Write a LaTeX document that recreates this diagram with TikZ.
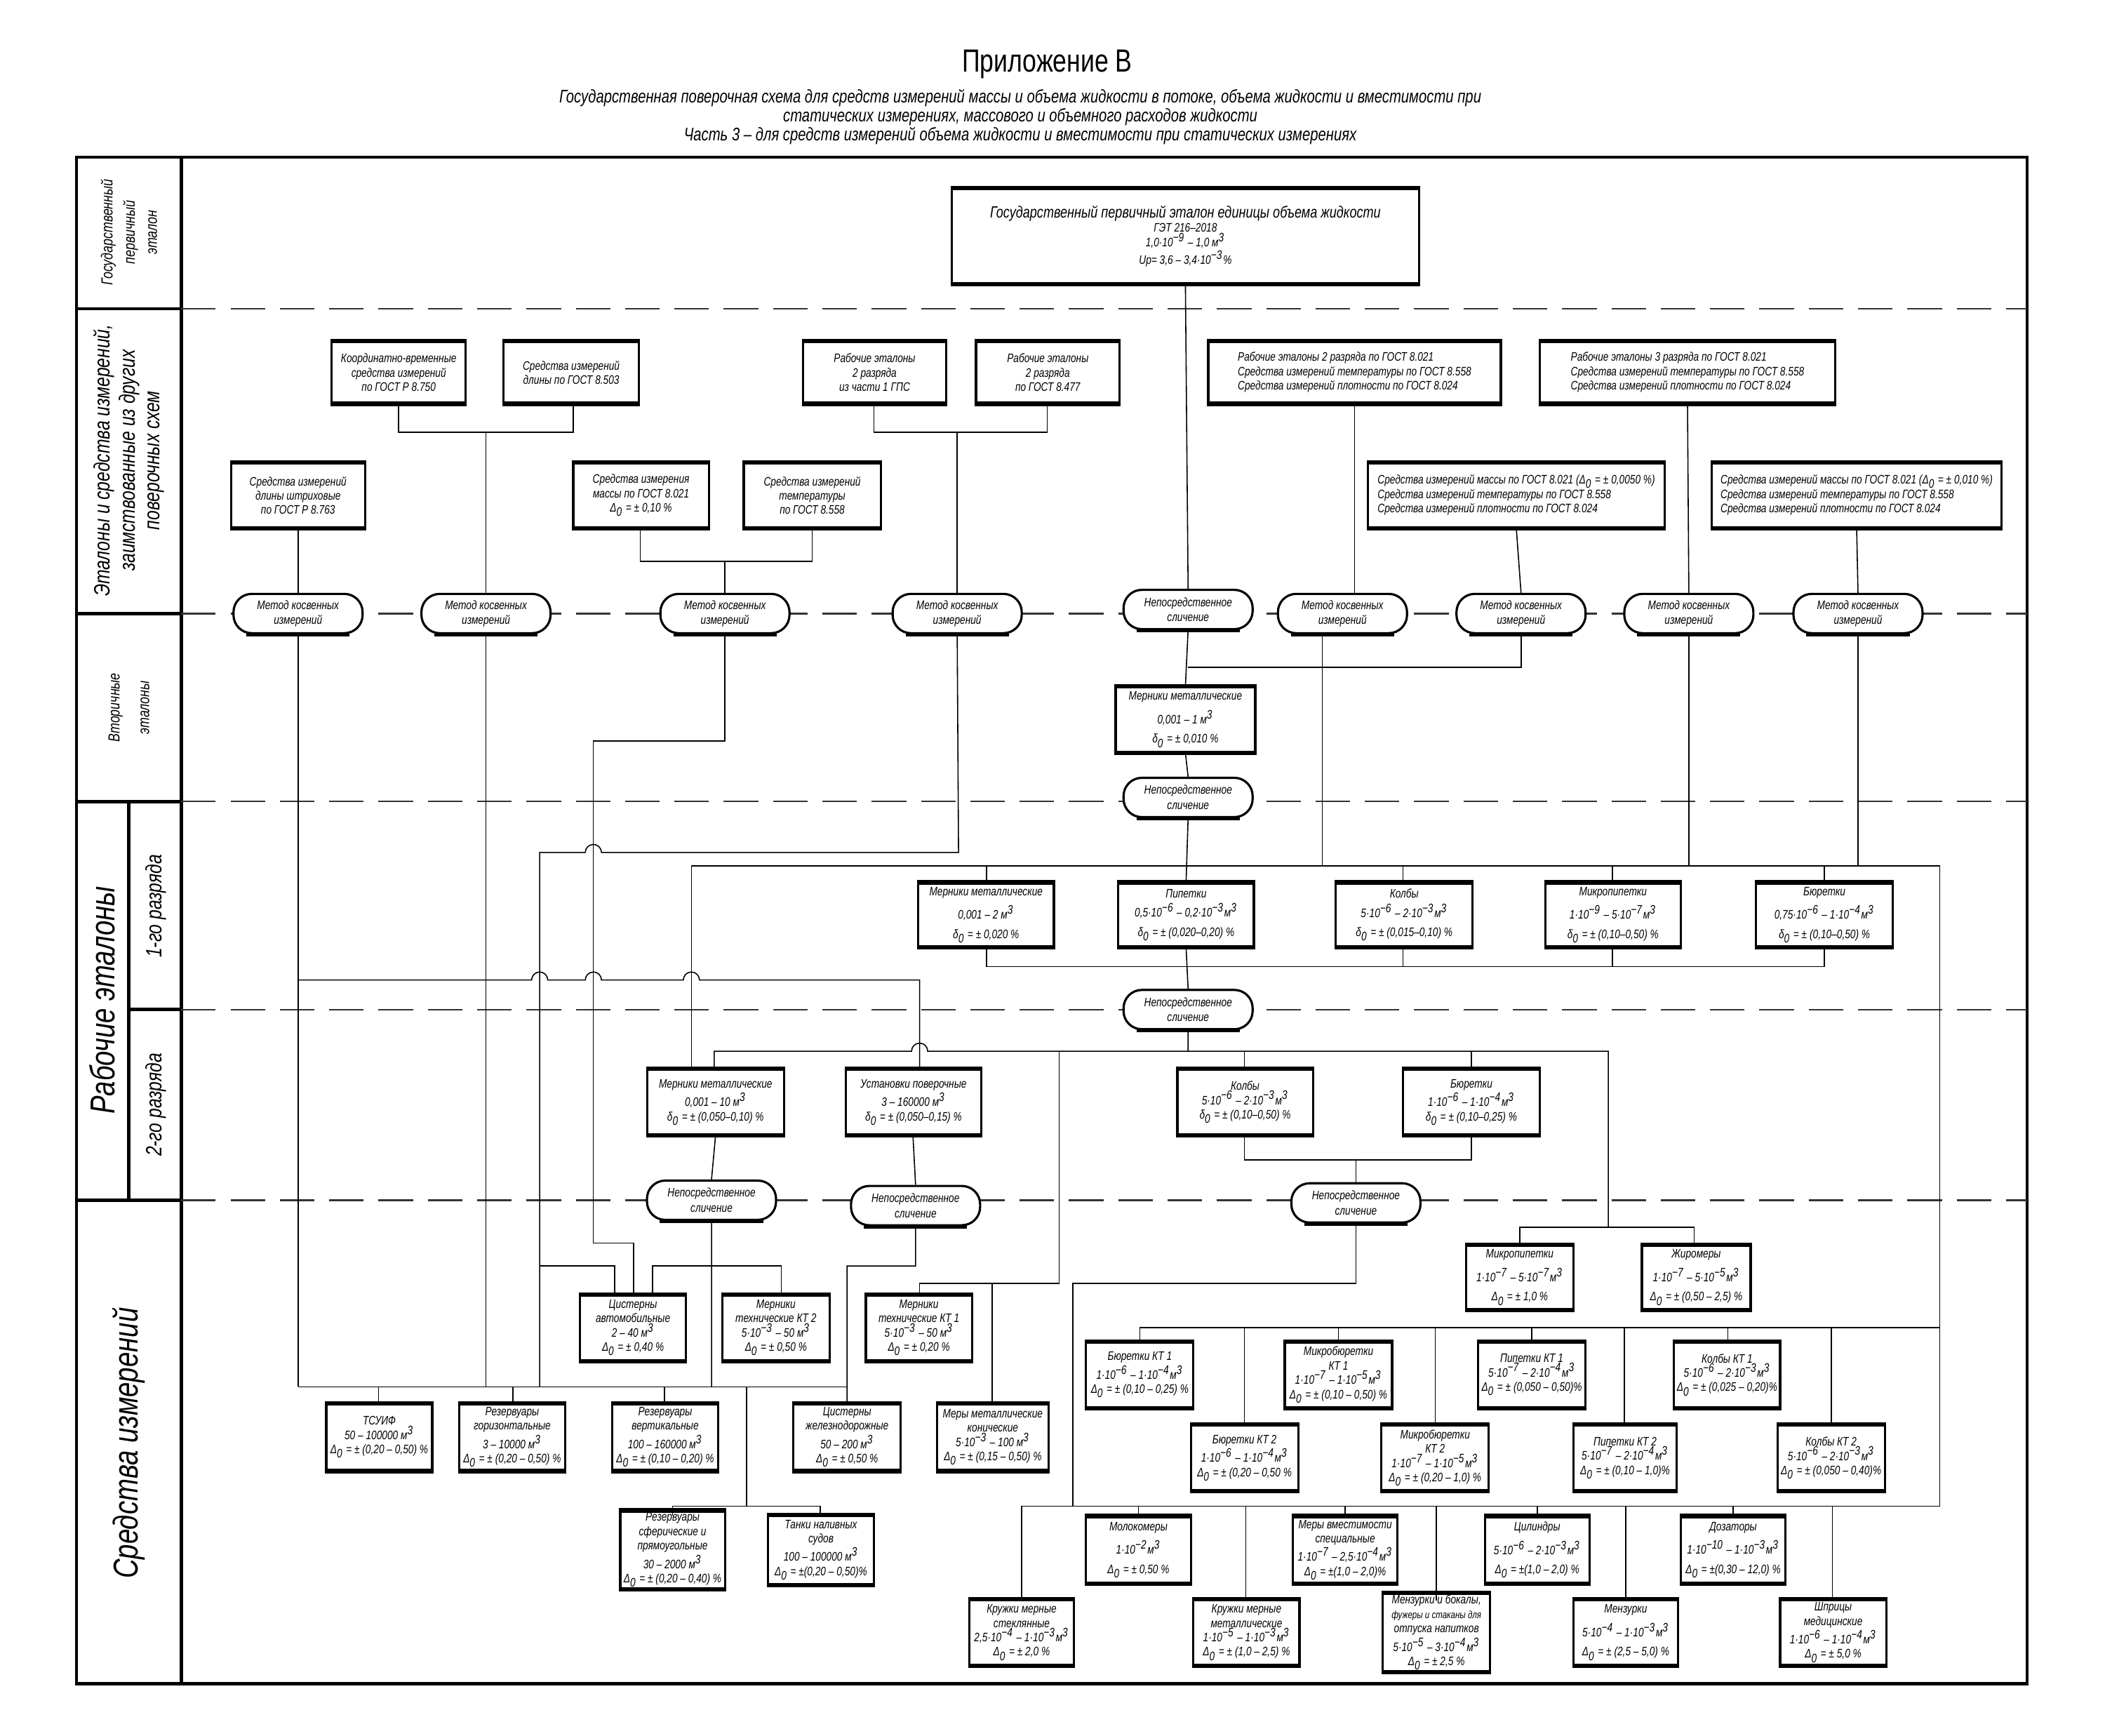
\documentclass[tikz,border=0pt]{standalone}
\usepackage{fontspec}
\setmainfont{Liberation Sans}[FakeStretch=0.78]
\begin{document}
\newcommand\tp[1]{10\textsuperscript{#1}}
\newcommand\kub{м\textsuperscript{3}}
\newcommand\dz{δ\textsubscript{0}}
\newcommand\Dz{Δ\textsubscript{0}}
\newcommand\bx[6]{%
 \pgfmathsetmacro\bw{(#4-#2)*0.01914}\pgfmathsetmacro\bh{(#5-#3)*0.01914}%
 \node[box,minimum width=\bw cm,minimum height=\bh cm] (#1) at ({(#2+#4)/2},{(#3+#5)/2}) {#6};
 \draw[line width=1.7pt] (#1.north west)--(#1.north east) (#1.south west)--(#1.south east);}
\newcommand\mt[4]{%
 \node[meth] (#1) at (#2,#3) {#4};
 \draw[line width=1.6pt] ([xshift=2mm]#1.south west)--([xshift=-2mm]#1.south east);}
\begin{tikzpicture}[x=0.01914cm,y=-0.01914cm,
 box/.style={draw,fill=white,line width=0.9pt,inner sep=0.5pt,align=center,font=\itshape\fontsize{5}{5.8}\selectfont},
 meth/.style={draw,fill=white,line width=0.9pt,rounded corners=2.6mm,minimum width=1.84cm,minimum height=0.56cm,inner sep=0.5pt,align=center,font=\itshape\fontsize{5}{6.2}\selectfont},
 w/.style={line width=0.45pt},
 dsh/.style={line width=0.7pt,dash pattern=on 14pt off 6pt,black!80},
 thk/.style={line width=1.3pt}]
\useasboundingbox (0,0) rectangle (1568,1293);
\fill[white] (0,0) rectangle (1568,1293);
% titles
\node (t0) at (780,48) {\fontsize{13}{14}\selectfont Приложение В};
\node[align=center,font=\itshape\fontsize{7.4}{7.6}\selectfont] (t1) at (760,87) {Государственная поверочная схема для средств измерений массы и объема жидкости в потоке, объема жидкости и вместимости при\\ статических измерениях, массового и объемного расходов жидкости\\ Часть 3 – для средств измерений объема жидкости и вместимости при статических измерениях};
% frame
\draw[thk] (57,117) rectangle (1510,1254);
\draw[thk] (135,117) -- (135,1254);
\foreach \y in {230,457,597,894} \draw[thk] (57,\y) -- (135,\y);
\draw[thk] (96,597) -- (96,894) (96,752) -- (135,752);
\foreach \y in {230,457,597,752,894} \draw[dsh] (135,\y) -- (1510,\y);
\node[rotate=90,align=center,font=\itshape\fontsize{6.5}{9}\selectfont] (c1) at (96,173) {Государственный\\ первичный\\ эталон};
\node[rotate=90,align=center,font=\itshape\fontsize{9}{10}\selectfont] (c2) at (96,343) {Эталоны и средства измерений,\\ заимствованные из других\\ поверочных схем};
\node[rotate=90,align=center,font=\itshape\fontsize{6.5}{12}\selectfont] (c3) at (96,527) {Вторичные\\ эталоны};
\node[rotate=90,font=\itshape\fontsize{14}{15}\selectfont] (c4) at (76,745) {Рабочие эталоны};
\node[rotate=90,font=\itshape\fontsize{9}{10}\selectfont] (c5) at (116,675) {1-го разряда};
\node[rotate=90,font=\itshape\fontsize{9}{10}\selectfont] (c6) at (116,823) {2-го разряда};
\node[rotate=90,font=\itshape\fontsize{14}{15}\selectfont] (c7) at (96,1075) {Средства измерений};
% boxes
\bx{gpe}{709}{141}{1057}{211}{\fontsize{6.6}{7.4}\selectfont Государственный первичный эталон единицы объема жидкости\\ ГЭТ 216–2018\\ 1,0·\tp{−9} – 1,0 \kub\\ Up= 3,6 – 3,4·\tp{−3}\%}
\bx{k1}{247}{255}{347}{300}{Координатно-временные\\ средства измерений\\ по ГОСТ Р 8.750}
\bx{k2}{375}{255}{476}{300}{Средства измерений\\ длины по ГОСТ 8.503}
\bx{k3}{598}{255}{705}{300}{Рабочие эталоны\\ 2 разряда\\ из части 1 ГПС}
\bx{k4}{727}{255}{834}{300}{Рабочие эталоны\\ 2 разряда\\ по ГОСТ 8.477}
\bx{k5}{900}{255}{1118}{300}{\begin{tabular}{@{}l@{}}Рабочие эталоны 2 разряда по ГОСТ 8.021\\ Средства измерений температуры по ГОСТ 8.558\\ Средства измерений плотности по ГОСТ 8.024\end{tabular}}
\bx{k6}{1147}{255}{1367}{300}{\begin{tabular}{@{}l@{}}Рабочие эталоны 3 разряда по ГОСТ 8.021\\ Средства измерений температуры по ГОСТ 8.558\\ Средства измерений плотности по ГОСТ 8.024\end{tabular}}
\bx{l1}{172}{345}{272}{393}{Средства измерений\\ длины штриховые\\ по ГОСТ Р 8.763}
\bx{l2}{427}{345}{528}{393}{Средства измерения\\ массы по ГОСТ 8.021\\ \Dz{} = ± 0,10 \%}
\bx{l3}{554}{345}{656}{393}{Средства измерений\\ температуры\\ по ГОСТ 8.558}
\bx{l4}{1019}{345}{1240}{393}{\begin{tabular}{@{}l@{}}Средства измерений массы по ГОСТ 8.021 (\Dz{} = ± 0,0050 \%)\\ Средства измерений температуры по ГОСТ 8.558\\ Средства измерений плотности по ГОСТ 8.024\end{tabular}}
\bx{l5}{1275}{345}{1491}{393}{\begin{tabular}{@{}l@{}}Средства измерений массы по ГОСТ 8.021 (\Dz{} = ± 0,010 \%)\\ Средства измерений температуры по ГОСТ 8.558\\ Средства измерений плотности по ГОСТ 8.024\end{tabular}}
% methods
\mt{m1}{222}{457}{Метод косвенных\\ измерений}
\mt{m2}{362}{457}{Метод косвенных\\ измерений}
\mt{m3}{540}{457}{Метод косвенных\\ измерений}
\mt{m4}{713}{457}{Метод косвенных\\ измерений}
\mt{m5}{885}{454}{Непосредственное\\ сличение}
\mt{m6}{1000}{457}{Метод косвенных\\ измерений}
\mt{m7}{1133}{457}{Метод косвенных\\ измерений}
\mt{m8}{1258}{457}{Метод косвенных\\ измерений}
\mt{m9}{1384}{457}{Метод косвенных\\ измерений}
\bx{sec}{831}{512}{935}{560}{Мерники металлические\\[2pt] 0,001 – 1 \kub\\[2pt] \dz{} = ± 0,010 \%}
\mt{n3}{885}{594}{Непосредственное\\ сличение}
\bx{r1}{684}{658}{785}{705}{Мерники металлические\\[2pt] 0,001 – 2 \kub\\[2pt] \dz{} = ± 0,020 \%}
\bx{r2}{833}{658}{934}{705}{Пипетки\\[2pt] 0,5·\tp{−6} – 0,2·\tp{−3}\kub\\[2pt] \dz{} = ± (0,020–0,20) \%}
\bx{r3}{995}{658}{1097}{705}{Колбы\\[2pt] 5·\tp{−6} – 2·\tp{−3}\kub\\[2pt] \dz{} = ± (0,015–0,10) \%}
\bx{r4}{1151}{658}{1252}{705}{Микропипетки\\[2pt] 1·\tp{−9} – 5·\tp{−7}\kub\\[2pt] \dz{} = ± (0,10–0,50) \%}
\bx{r5}{1308}{658}{1410}{705}{Бюретки\\[2pt] 0,75·\tp{−6} – 1·\tp{−4}\kub\\[2pt] \dz{} = ± (0,10–0,50) \%}
\mt{n2}{885}{752}{Непосредственное\\ сличение}
\bx{s1}{482}{797}{584}{845}{Мерники металлические\\ 0,001 – 10 \kub\\ \dz{} = ± (0,050–0,10) \%}
\bx{s2}{630}{797}{731}{845}{Установки поверочные\\ 3 – 160000 \kub\\ \dz{} = ± (0,050–0,15) \%}
\bx{s3}{877}{797}{978}{845}{Колбы\\ 5·\tp{−6} – 2·\tp{−3}\kub\\ \dz{} = ± (0,10–0,50) \%}
\bx{s4}{1045}{797}{1147}{845}{Бюретки\\ 1·\tp{−6} – 1·\tp{−4}\kub\\ \dz{} = ± (0,10–0,25) \%}
\mt{n4}{530}{894}{Непосредственное\\ сличение}
\mt{n6}{682}{898}{Непосредственное\\ сличение}
\mt{n5}{1010}{896}{Непосредственное\\ сличение}
\bx{mp}{1092}{928}{1172}{975}{Микропипетки\\[2pt] 1·\tp{−7} – 5·\tp{−7}\kub\\[2pt] \Dz{} = ± 1,0 \%}
\bx{zh}{1223}{928}{1304}{975}{Жиромеры\\[2pt] 1·\tp{−7} – 5·\tp{−5}\kub\\[2pt] \Dz{} = ± (0,50 – 2,5) \%}
\bx{ca}{432}{965}{511}{1013}{Цистерны\\ автомобильные\\ 2 – 40 \kub\\ \Dz{} = ± 0,40 \%}
\bx{mt2}{538}{965}{618}{1013}{Мерники\\ технические КТ 2\\ 5·\tp{−3} – 50 \kub\\ \Dz{} = ± 0,50 \%}
\bx{mt1}{645}{965}{724}{1013}{Мерники\\ технические КТ 1\\ 5·\tp{−3} – 50 \kub\\ \Dz{} = ± 0,20 \%}
\bx{ts}{243}{1046}{322}{1095}{ТСУИФ\\ 50 – 100000 \kub\\ \Dz{} = ± (0,20 – 0,50) \%}
\bx{rg}{342}{1046}{421}{1095}{Резервуары\\ горизонтальные\\ 3 – 10000 \kub\\ \Dz{} = ± (0,20 – 0,50) \%}
\bx{rv}{456}{1046}{535}{1095}{Резервуары\\ вертикальные\\ 100 – 160000 \kub\\ \Dz{} = ± (0,10 – 0,20) \%}
\bx{cz}{591}{1046}{671}{1095}{Цистерны\\ железнодорожные\\ 50 – 200 \kub\\ \Dz{} = ± 0,50 \%}
\bx{mk}{698}{1046}{781}{1095}{Меры металлические\\ конические\\ 5·\tp{−3} – 100 \kub\\ \Dz{} = ± (0,15 – 0,50) \%}
\bx{rs}{462}{1129}{540}{1180}{Резервуары\\ сферические и\\ прямоугольные\\ 30 – 2000 \kub\\ \Dz{} = ± (0,20 – 0,40) \%}
\bx{tn}{572}{1129}{651}{1180}{Танки наливных\\ судов\\ 100 – 100000 \kub\\ \Dz{} = ±(0,20 – 0,50)\%}
\bx{b1}{809}{1000}{889}{1048}{Бюретки КТ 1\\ 1·\tp{−6} – 1·\tp{−4}\kub\\ \Dz{} = ± (0,10 – 0,25) \%}
\bx{mb1}{957}{1000}{1037}{1048}{Микробюретки\\ КТ 1\\ 1·\tp{−7} – 1·\tp{−5}\kub\\ \Dz{} = ± (0,10 – 0,50) \%}
\bx{p1}{1101}{1000}{1181}{1048}{Пипетки КТ 1\\ 5·\tp{−7} – 2·\tp{−4}\kub\\ \Dz{} = ± (0,050 – 0,50)\%}
\bx{c1b}{1247}{1000}{1326}{1048}{Колбы КТ 1\\ 5·\tp{−6} – 2·\tp{−3}\kub\\ \Dz{} = ± (0,025 – 0,20)\%}
\bx{b2}{887}{1062}{967}{1110}{Бюретки КТ 2\\ 1·\tp{−6} – 1·\tp{−4}\kub\\ \Dz{} = ± (0,20 – 0,50 \%}
\bx{mb2}{1029}{1062}{1109}{1110}{Микробюретки\\ КТ 2\\ 1·\tp{−7} – 1·\tp{−5}\kub\\ \Dz{} = ± (0,20 – 1,0) \%}
\bx{p2}{1172}{1062}{1249}{1110}{Пипетки КТ 2\\ 5·\tp{−7} – 2·\tp{−4}\kub\\ \Dz{} = ± (0,10 – 1,0)\%}
\bx{c2b}{1324}{1062}{1404}{1110}{Колбы КТ 2\\ 5·\tp{−6} – 2·\tp{−3}\kub\\ \Dz{} = ± (0,050 – 0,40)\%}
\bx{ml}{809}{1130}{887}{1179}{Молокомеры\\[2pt] 1·\tp{−2}\kub\\[2pt] \Dz{} = ± 0,50 \%}
\bx{ms}{963}{1130}{1041}{1179}{Меры вместимости\\ специальные\\ 1·\tp{−7} – 2,5·\tp{−4}\kub\\ \Dz{} = ±(1,0 – 2,0)\%}
\bx{cy}{1106}{1130}{1184}{1179}{Цилиндры\\[2pt] 5·\tp{−6} – 2·\tp{−3}\kub\\[2pt] \Dz{} = ±(1,0 – 2,0) \%}
\bx{dzt}{1252}{1130}{1330}{1179}{Дозаторы\\[2pt] 1·\tp{−10} – 1·\tp{−3}\kub\\[2pt] \Dz{} = ±(0,30 – 12,0) \%}
\bx{ks}{722}{1192}{800}{1240}{Кружки мерные\\ стеклянные\\ 2,5·\tp{−4} – 1·\tp{−3}\kub\\ \Dz{} = ± 2,0 \%}
\bx{km}{889}{1192}{968}{1240}{Кружки мерные\\ металлические\\ 1·\tp{−5} – 1·\tp{−3}\kub\\ \Dz{} = ± (1,0 – 2,5) \%}
\bx{mzb}{1030}{1192}{1110}{1240}{Мензурки и бокалы,\\ {\fontsize{4.2}{4.8}\selectfont фужеры и стаканы для}\\ отпуска напитков\\ 5·\tp{−5} – 3·\tp{−4}\kub\\ \Dz{} = ± 2,5 \%}
\bx{mz}{1172}{1192}{1250}{1240}{Мензурки\\[2pt] 5·\tp{−4} – 1·\tp{−3}\kub\\[2pt] \Dz{} = ± (2,5 – 5,0) \%}
\bx{sh}{1326}{1192}{1405}{1240}{Шприцы\\ медицинские\\ 1·\tp{−6} – 1·\tp{−4}\kub\\ \Dz{} = ± 5,0 \%}
% ---------- wires
\begin{scope}[w]
\draw (gpe.south) -- (m5.north);
\draw (297,300) -- (297,322) -- (427,322) -- (427,300) (362,322) -- (m2.north);
\draw (651,300) -- (651,322) -- (780,322) -- (780,300) (713,322) -- (m4.north);
\draw (1009,300) -- (1009,443);
\draw (k6.south) -- (m8.north);
\draw (l1.south) -- (m1.north);
\draw (477,393) -- (477,418) -- (605,418) -- (605,393) (540,418) -- (m3.north);
\draw (l4.south) -- (m7.north);
\draw (l5.south) -- (m9.north);
\draw (m5.south) -- (sec.north);
\draw (m7.south) -- (1133,497) -- (885,497);
\draw (985,471) -- (985,645);
\draw (sec.south) -- (n3.north) (n3.south) -- (r2.north);
\draw (m8.south) -- (1258,645) (m9.south) -- (1384,645);
\draw (515,645) -- (1445,645) -- (1445,1122);
\foreach \x in {735,1045,1201,1359} \draw (\x,645) -- (\x,658);
\draw (735,705) -- (735,720) -- (1359,720) -- (1359,705);
\foreach \x in {1045,1201} \draw (\x,705) -- (\x,720);
\draw (r2.south) -- (n2.north) (n2.south) -- (885,783);
\draw (532,797) -- (532,783) -- (679,783) arc[start angle=180,end angle=0,radius=0.115cm] -- (1198,783) -- (1198,914);
\draw (927,783) -- (927,797) (1096,783) -- (1096,797);
\draw (1132,928) -- (1132,914) -- (1262,914) -- (1262,928);
\draw (515,645) -- (515,797);
\draw (m1.south) -- (222,1033);
\draw (222,730) -- (396,730) arc[start angle=180,end angle=0,radius=0.115cm] -- (436,730) arc[start angle=180,end angle=0,radius=0.115cm] -- (509,730) arc[start angle=180,end angle=0,radius=0.115cm] -- (685,730) -- (685,797);
\draw (m2.south) -- (362,1033);
\draw (m3.south) -- (540,552) -- (442,552) -- (442,926) -- (472,926) -- (472,965);
\draw (m4.south) -- (714,635) -- (448,635) arc[start angle=0,end angle=180,radius=0.115cm] -- (402,635) -- (402,1033);
\draw (402,943) -- (458,943) -- (458,965);
\draw (s1.south) -- (n4.north) (n4.south) -- (530,1033);
\draw (486,965) -- (486,943) -- (582,943) -- (582,965);
\draw (680,845) -- (n6.north) (n6.south) -- (682,943) -- (631,943) -- (631,1046);
\draw (927,845) -- (927,864) -- (1096,864) -- (1096,845) (1010,864) -- (n5.north);
\draw (n5.south) -- (1010,956) -- (799,956) -- (799,1122);
\draw (789,783) -- (789,956) -- (685,956) -- (685,965) (739,956) -- (739,1046);
\draw (222,1033) -- (631,1033);
\foreach \x in {282,382,495} \draw (\x,1033) -- (\x,1046);
\draw (556,1033) -- (556,1122) (501,1129) -- (501,1122) -- (611,1122) -- (611,1129);
\draw (849,1000) -- (849,989) -- (1445,989);
\foreach \x in {997,1141,1287} \draw (\x,989) -- (\x,1000);
\foreach \x in {927,1069,1210,1364} \draw (\x,989) -- (\x,1062);
\draw (761,1192) -- (761,1122) -- (1445,1122);
\foreach \x in {848,1002,1145,1291} \draw (\x,1122) -- (\x,1130);
\foreach \x in {928,1070,1211,1365} \draw (\x,1122) -- (\x,1192);
\end{scope}
\end{tikzpicture}
\end{document}
